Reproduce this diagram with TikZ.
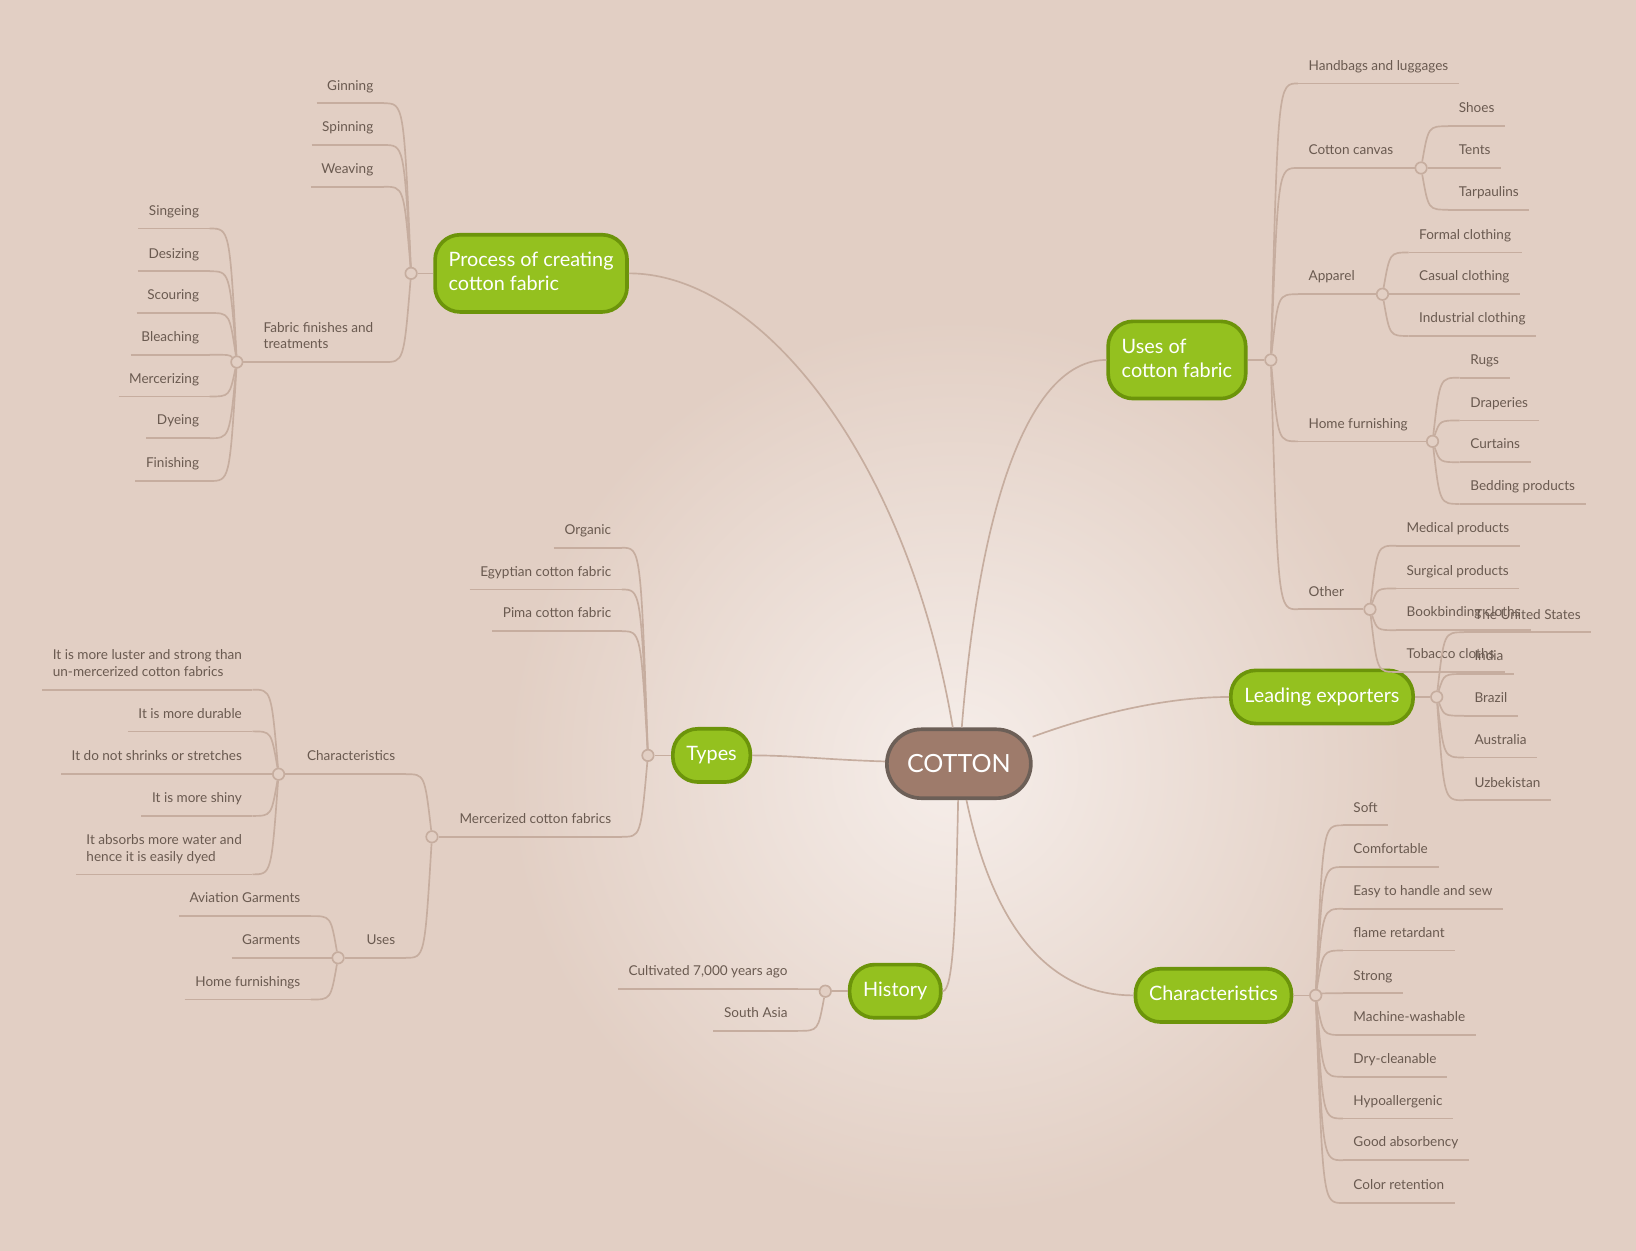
\documentclass[tikz,border=0pt]{standalone}
\usepackage{fontspec}
\setmainfont{Lato}
\usepackage{tikz}
\usetikzlibrary{calc,positioning}
\definecolor{paper}{HTML}{E2CFC4}
\definecolor{glow}{HTML}{F6EEEA}
\definecolor{twig}{HTML}{C6AD9F}
\definecolor{ink}{HTML}{6A5A50}
\definecolor{leaf}{HTML}{94C11F}
\definecolor{leafdark}{HTML}{6C940A}
\definecolor{bark}{HTML}{9E7B6B}
\definecolor{barkdark}{HTML}{6C5F57}

\begin{document}
\begin{tikzpicture}[x=1pt,y=-1pt,
  every node/.style={font=\fontsize{13}{16}\selectfont,text=ink},
  root/.style={draw=barkdark,fill=bark,line width=3.5pt,rounded corners=33pt,minimum width=138pt,minimum height=66pt,text=white,font=\fontsize{24}{28}\selectfont},
  topic/.style={draw=leafdark,fill=leaf,line width=3.5pt,rounded corners=24pt,text=white,font=\fontsize{19}{23}\selectfont,align=left,text height=14pt,text depth=4pt,inner xsep=13pt,inner ysep=16.5pt},
  topic2/.style={topic,text height=37pt},
  knob/.style={circle,draw=twig,fill=paper,line width=1.6pt,minimum size=11pt,inner sep=0pt},
  sub/.style={inner xsep=10pt,inner ysep=9.5pt,text depth=3pt},
  subR/.style={sub,anchor=south west,align=left},
  subL/.style={sub,anchor=south east,align=right},
  wire/.style={draw=twig,line width=1.6pt}]
  \useasboundingbox (0,0) rectangle (1568,1199);
  \fill[paper] (0,0) rectangle (1568,1199);
  \shade[inner color=glow,outer color=paper] (915,735) circle (430);

  % central topic and main topics
  \node[root] (cotton) at (919,732) {COTTON};
  \node[topic2] (process) at (509,262) {Process of creating\\cotton fabric};
  \node[topic2] (uses) at (1128,345) {Uses of\\cotton fabric};
  \node[topic] (exporters) at (1267,668) {Leading exporters};
  \node[topic] (characteristics) at (1163,954) {Characteristics};
  \node[topic] (history) at (858,950) {History};
  \node[topic] (types) at (682,724) {Types};

  \node[knob] (kProcess) at (394,262) {};
  \node[knob] (kUses) at (1218,345) {};
  \node[knob] (kExporters) at (1377,668) {};
  \node[knob] (kCharacteristics) at (1261,954) {};
  \node[knob] (kHistory) at (791,950) {};
  \node[knob] (kTypes) at (621,724) {};

  % uses of cotton fabric
  \node[subR] (bags) at (1244,80) {Handbags and luggages};
  \node[subR] (canvas) at (1244,161) {Cotton canvas};
  \node[subR] (apparel) at (1244,282) {Apparel};
  \node[subR] (homefur) at (1244,423) {Home furnishing};
  \node[subR] (other) at (1244,584) {Other};
  \node[knob] (kCanvas) at (1362,161) {};
  \node[knob] (kApparel) at (1325,282) {};
  \node[knob] (kHomefur) at (1373,423) {};
  \node[knob] (kOther) at (1313,584) {};
  \node[subR] (shoes) at (1388,121) {Shoes};
  \node[subR] (tents) at (1388,161) {Tents};
  \node[subR] (tarps) at (1388,201) {Tarpaulins};
  \node[subR] (formal) at (1350,242) {Formal clothing};
  \node[subR] (casual) at (1350,282) {Casual clothing};
  \node[subR] (industrial) at (1350,322) {Industrial clothing};
  \node[subR] (rugs) at (1399,362) {Rugs};
  \node[subR] (draperies) at (1399,403) {Draperies};
  \node[subR] (curtains) at (1399,443) {Curtains};
  \node[subR] (bedding) at (1399,483) {Bedding products};
  \node[subR] (medical) at (1338,523) {Medical products};
  \node[subR] (surgical) at (1338,564) {Surgical products};
  \node[subR] (bookbind) at (1338,604) {Bookbinding cloths};
  \node[subR] (tobacco) at (1338,644) {Tobacco cloths};

  % leading exporters
  \node[subR] (usa) at (1403,606) {The United States};
  \node[subR] (india) at (1403,646) {India};
  \node[subR] (brazil) at (1403,686) {Brazil};
  \node[subR] (australia) at (1403,726) {Australia};
  \node[subR] (uzbek) at (1403,767) {Uzbekistan};

  % characteristics
  \node[subR] (soft) at (1287,791) {Soft};
  \node[subR] (comfortable) at (1287,831) {Comfortable};
  \node[subR] (easy) at (1287,871) {Easy to handle and sew};
  \node[subR] (flame) at (1287,911) {flame retardant};
  \node[subR] (strong) at (1287,952) {Strong};
  \node[subR] (machine) at (1287,992) {Machine-washable};
  \node[subR] (dry) at (1287,1032) {Dry-cleanable};
  \node[subR] (hypo) at (1287,1072) {Hypoallergenic};
  \node[subR] (absorbency) at (1287,1112) {Good absorbency};
  \node[subR] (colour) at (1287,1153) {Color retention};

  % process of creating cotton fabric
  \node[subL] (ginning) at (368,99) {Ginning};
  \node[subL] (spinning) at (368,139) {Spinning};
  \node[subL] (weaving) at (368,179) {Weaving};
  \node[subL,align=left] (finishes) at (368,347) {Fabric finishes and\\treatments};
  \node[knob] (kFinishes) at (227,347) {};
  \node[subL] (singeing) at (201,219) {Singeing};
  \node[subL] (desizing) at (201,260) {Desizing};
  \node[subL] (scouring) at (201,300) {Scouring};
  \node[subL] (bleaching) at (201,340) {Bleaching};
  \node[subL] (mercerizing) at (201,380) {Mercerizing};
  \node[subL] (dyeing) at (201,420) {Dyeing};
  \node[subL] (finishing) at (201,461) {Finishing};

  % history
  \node[subL] (cultivated) at (765,948) {Cultivated 7,000 years ago};
  \node[subL] (asia) at (765,988) {South Asia};

  % types
  \node[subL] (organic) at (596,525) {Organic};
  \node[subL] (egyptian) at (596,565) {Egyptian cotton fabric};
  \node[subL] (pima) at (596,605) {Pima cotton fabric};
  \node[subL] (mercerized) at (596,802) {Mercerized cotton fabrics};
  \node[knob] (kMercerized) at (414,802) {};
  \node[subL] (mchar) at (389,742) {Characteristics};
  \node[subL] (muses) at (389,918) {Uses};
  \node[knob] (kMchar) at (267,742) {};
  \node[knob] (kMuses) at (324,918) {};
  \node[subL,align=left] (luster) at (242,661) {It is more luster and strong than\\un-mercerized cotton fabrics};
  \node[subL] (durable) at (242,701) {It is more durable};
  \node[subL] (shrink) at (242,742) {It do not shrinks or stretches};
  \node[subL] (shiny) at (242,782) {It is more shiny};
  \node[subL,align=left] (absorbs) at (242,838) {It absorbs more water and\\hence it is easily dyed};
  \node[subL] (aviation) at (298,878) {Aviation Garments};
  \node[subL] (garments) at (298,918) {Garments};
  \node[subL] (homefurn) at (298,958) {Home furnishings};

  % branches from the centre
  \draw[wire] (cotton) .. controls (870,440) and (730,262) .. (process.east);
  \draw[wire] (cotton) .. controls (940,470) and (990,345) .. (uses.west);
  \draw[wire] (cotton) .. controls (1020,695) and (1100,668) .. (exporters.west);
  \draw[wire] (cotton) .. controls (950,880) and (1000,954) .. (characteristics.west);
  \draw[wire] (cotton) .. controls (916,880) and (914,950) .. (history.east);
  \draw[wire] (cotton) .. controls (790,728) and (760,724) .. (types.east);
  \foreach \t/\k in {process/kProcess,uses/kUses,exporters/kExporters,
      characteristics/kCharacteristics,history/kHistory,types/kTypes}
    \draw[wire] (\t) -- (\k);

  % underlines of leaves
  \foreach \n in {bags,shoes,tents,tarps,formal,casual,industrial,rugs,draperies,curtains,
      bedding,medical,surgical,bookbind,tobacco,usa,india,brazil,australia,uzbek,soft,
      comfortable,easy,flame,strong,machine,dry,hypo,absorbency,colour,ginning,spinning,
      weaving,singeing,desizing,scouring,bleaching,mercerizing,dyeing,finishing,cultivated,
      asia,organic,egyptian,pima,luster,durable,shrink,shiny,absorbs,aviation,garments,homefurn}
    \draw[wire] (\n.south west) -- (\n.south east);
  \foreach \n/\k in {canvas/kCanvas,apparel/kApparel,homefur/kHomefur,other/kOther}
    \draw[wire] (\n.south west) -- (\k);
  \foreach \n/\k in {finishes/kFinishes,mercerized/kMercerized,mchar/kMchar,muses/kMuses}
    \draw[wire] (\n.south east) -- (\k);

  % fans to the right
  \foreach \k/\kids in {kUses/{bags,canvas,apparel,homefur,other},kCanvas/{shoes,tents,tarps},
      kApparel/{formal,casual,industrial},kHomefur/{rugs,draperies,curtains,bedding},
      kOther/{medical,surgical,bookbind,tobacco},kExporters/{usa,india,brazil,australia,uzbek},
      kCharacteristics/{soft,comfortable,easy,flame,strong,machine,dry,hypo,absorbency,colour}}
    \foreach \n in \kids
      \draw[wire] (\k) .. controls ($(\k|-\n.south west)+(7,0)$) .. (\n.south west);
  % fans to the left
  \foreach \k/\kids in {kProcess/{ginning,spinning,weaving,finishes},
      kFinishes/{singeing,desizing,scouring,bleaching,mercerizing,dyeing,finishing},
      kHistory/{cultivated,asia},kTypes/{organic,egyptian,pima,mercerized},
      kMercerized/{mchar,muses},kMchar/{luster,durable,shrink,shiny,absorbs},
      kMuses/{aviation,garments,homefurn}}
    \foreach \n in \kids
      \draw[wire] (\k) .. controls ($(\k|-\n.south east)+(-7,0)$) .. (\n.south east);
\end{tikzpicture}
\end{document}
